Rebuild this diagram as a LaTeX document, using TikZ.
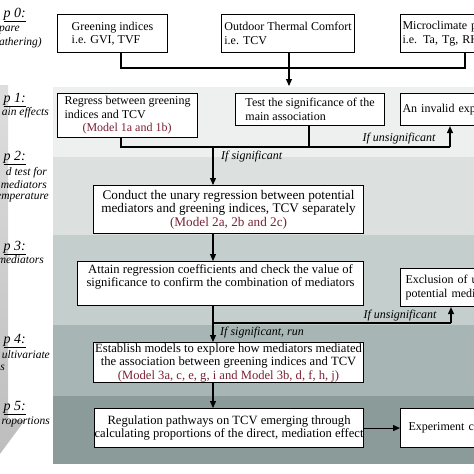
\documentclass[tikz,border=0pt]{standalone}
\usepackage{fontspec}
\setmainfont{Liberation Serif}
\usetikzlibrary{positioning,arrows.meta}

\definecolor{modelred}{HTML}{7B2235}
\definecolor{bandA}{HTML}{EEF0F0}
\definecolor{bandB}{HTML}{DCE1E0}
\definecolor{bandC}{HTML}{C4CECD}
\definecolor{bandD}{HTML}{A7B5B4}
\definecolor{bandE}{HTML}{8B9B9A}

\tikzset{
  stepbox/.style={draw=black, line width=1.1pt, fill=white, inner sep=0pt,
    anchor=north west, font=\fontsize{12}{13.5}\selectfont},
  widebox/.style={stepbox, font=\fontsize{12.6}{13.5}\selectfont},
  link/.style={line width=1.1pt},
  flow/.style={line width=1.1pt, -{Triangle[length=7pt,width=6pt]}},
  cond/.style={font=\fontsize{12}{13.5}\selectfont\itshape, inner sep=0pt},
  steptitle/.style={font=\fontsize{14}{16}\selectfont\itshape, anchor=east, inner sep=0pt},
  stepnote/.style={font=\fontsize{11.5}{12}\selectfont\itshape, anchor=east, inner sep=0pt},
}

\begin{document}
\begin{tikzpicture}[x=1pt,y=-1pt]
\useasboundingbox (0,0) rectangle (474,474);
\clip (0,0) rectangle (474,474);
\fill[white] (0,0) rectangle (474,474);

% step bands
\fill[bandA] (53,87) rectangle (480,157);
\fill[bandB] (53,157) rectangle (480,235);
\fill[bandC] (53,235) rectangle (480,325);
\fill[bandD] (53,325) rectangle (480,396);
\fill[bandE] (53,396) rectangle (480,464);

% side arrow
\shade[top color=black!13, bottom color=black!26]
  (-40,85) -- (8,85) -- (8,420) -- (25,420) -- (-6,462) -- (-40,420) -- cycle;

% step labels
\node[steptitle] (lab0) at (26,15) {\underline{p 0:}};
\node[stepnote] (lab0a) at (20,30) {pare};
\node[stepnote] (lab0b) at (42,43) {athering)};
\node[steptitle] (lab1) at (26,100) {\underline{p 1:}};
\node[stepnote] (lab1a) at (49,113) {ain effects};
\node[steptitle] (lab2) at (26,158) {\underline{p 2:}};
\node[stepnote] (lab2a) at (47,173) {d test for};
\node[stepnote] (lab2b) at (47,185) {mediators};
\node[stepnote] (lab2c) at (49,197) {emperature};
\node[steptitle] (lab3) at (26,248) {\underline{p 3:}};
\node[stepnote] (lab3a) at (44,260) {mediators};
\node[steptitle] (lab4) at (26,341) {\underline{p 4:}};
\node[stepnote] (lab4a) at (50,355) {ultivariate};
\node[stepnote] (lab4b) at (5,368) {s};
\node[steptitle] (lab5) at (26,408) {\underline{p 5:}};
\node[stepnote] (lab5a) at (50,422) {roportions};

% step 0
\node[stepbox, minimum width=110pt, minimum height=38pt, align=left] (greening) at (57,14)
  {Greening indices\\i.e. GVI, TVF};
\node[stepbox, minimum width=133pt, minimum height=38pt, align=left] (thermal) at (221,14)
  {Outdoor Thermal Comfort\\i.e. TCV};
\node[stepbox, minimum height=38pt, text width=96pt, inner xsep=2pt, align=left] (micro) at (400,14)
  {Microclimate p\\i.e. Ta, Tg, RH};
\coordinate (j0a) at (121,68);
\coordinate (j0b) at (465,68);
\coordinate (j0c) at (289,86);
\draw[link] (greening.south -| j0a) -- (j0a) -- (j0b) -- (micro.south -| j0b);
\draw[flow] (thermal.south -| j0c) -- (j0c);

% step 1
\node[stepbox, minimum width=140pt, minimum height=44pt, align=left] (regress) at (57,93)
  {Regress between greening\\indices and TCV\\\hspace*{18pt}\textcolor{modelred}{(Model 1a and 1b)}};
\node[stepbox, minimum width=149pt, minimum height=32pt, align=left] (test) at (235,93)
  {Test the significance of the\\main association};
\node[stepbox, minimum height=32pt, text width=96pt, inner xsep=2pt, align=left] (invalid) at (400,93)
  {An invalid exp};
\coordinate (j1a) at (121,147);
\coordinate (j1b) at (450,147);
\coordinate (j1c) at (309,147);
\coordinate (j1d) at (213,147);
\draw[link] (regress.south -| j1a) -- (j1a) -- (j1b);
\draw[link] (test.south -| j1c) -- (j1c);
\draw[flow] (j1b) -- (invalid.south -| j1b);
\node[cond] (unsigA) at (399,139) {If unsignificant};
\node[cond, anchor=west] (sigA) at (221,157) {If significant};

% step 2
\node[widebox, font=\fontsize{13.2}{13.5}\selectfont, minimum width=270pt, minimum height=48pt, align=center] (conduct) at (93,185)
  {Conduct the unary regression between potential\\mediators and greening indices, TCV separately\\\textcolor{modelred}{(Model 2a, 2b and 2c)}};
\draw[flow] (j1d) -- (conduct.north -| j1d);

% step 3
\node[widebox, minimum width=286pt, minimum height=44pt, align=center] (attain) at (77,261)
  {Attain regression coefficients and check the value of\\significance to confirm the combination of mediators\\[2pt]\mbox{}};
\node[stepbox, minimum height=38pt, text width=90pt, inner xsep=5pt, align=left] (exclusion) at (400,268)
  {Exclusion of u\\potential medi};
\draw[flow] (conduct.south -| j1d) -- (attain.north -| j1d);
\coordinate (j3a) at (213,323);
\coordinate (j3b) at (451,323);
\draw[link] (attain.south -| j3a) -- (j3a) -- (j3b);
\draw[flow] (j3b) -- (exclusion.south -| j3b);
\node[cond] (unsigB) at (400,316) {If unsignificant};
\node[cond, anchor=west] (sigB) at (220,333) {If significant, run};

% step 4
\node[widebox, minimum width=270pt, minimum height=40pt, align=center] (establish) at (93,342)
  {Establish models to explore how mediators mediated\\the association between greening indices and TCV\\\textcolor{modelred}{(Model 3a, c, e, g, i and Model 3b, d, f, h, j)}};
\draw[flow] (j3a) -- (establish.north -| j3a);

% step 5
\node[widebox, minimum width=269pt, minimum height=39pt, align=center] (regulation) at (94,408)
  {Regulation pathways on TCV emerging through\\calculating proportions of the direct, mediation effect};
\node[stepbox, minimum height=39pt, text width=84pt, inner xsep=8pt, align=left] (experiment) at (400,408)
  {Experiment c};
\draw[flow] (establish.south -| j3a) -- (regulation.north -| j3a);
\draw[flow] (regulation) -- (experiment);
\end{tikzpicture}
\end{document}
